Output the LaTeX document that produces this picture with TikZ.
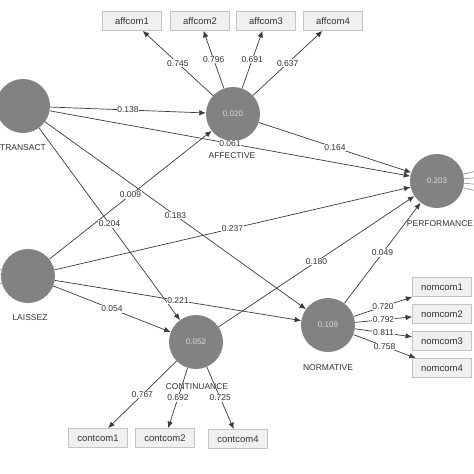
\documentclass[tikz,border=0pt]{standalone}
\usepackage{fontspec}
\setmainfont{Liberation Sans}
\usetikzlibrary{arrows.meta}
\definecolor{lvgray}{HTML}{828282}
\definecolor{lvtext}{HTML}{D8D8D8}
\definecolor{boxdraw}{HTML}{C4C4C4}
\definecolor{boxfill}{HTML}{F0F0F0}
\definecolor{txt}{HTML}{333333}
\definecolor{linec}{HTML}{3C3C3C}
\begin{document}
\begin{tikzpicture}[x=1pt,y=-1pt,
  lv/.style={circle, fill=lvgray, minimum size=54pt, inner sep=0pt, text=lvtext, font=\fontsize{8}{9}\selectfont},
  ind/.style={draw=boxdraw, line width=0.8pt, fill=boxfill, minimum width=59pt, minimum height=19pt, inner sep=0pt, text=txt, font=\fontsize{9.5}{11}\selectfont},
  lvname/.style={text=txt, inner sep=0pt, font=\fontsize{8.5}{10}\selectfont},
  conn/.style={draw=linec, line width=0.7pt, -{Latex[length=6.5pt,width=5.5pt]}},
  stub/.style={draw=linec!60, line width=0.6pt},
  coef/.style={fill=white, inner sep=0.8pt, text=txt, font=\fontsize{8.5}{10}\selectfont}
]
\clip (0,0) rectangle (474,474);
\fill[white] (0,0) rectangle (474,474);

% latent variables
\node[lv] (T) at (23,106) {};
\node[lv] (A) at (233,114) {0.020};
\node[lv] (P) at (437,181) {0.203};
\node[lv] (L) at (28,276) {};
\node[lv] (C) at (196,342) {0.052};
\node[lv] (N) at (328,325) {0.109};

% indicators
\node[ind] (a1) at (132,21) {affcom1};
\node[ind] (a2) at (200,21) {affcom2};
\node[ind] (a3) at (266,21) {affcom3};
\node[ind] (a4) at (333,21) {affcom4};
\node[ind] (c1) at (98,438) {contcom1};
\node[ind] (c2) at (165,438) {contcom2};
\node[ind] (c4) at (238,439) {contcom4};
\node[ind] (n1) at (442,287) {nomcom1};
\node[ind] (n2) at (442,314) {nomcom2};
\node[ind] (n3) at (442,341) {nomcom3};
\node[ind] (n4) at (442,368) {nomcom4};

% off-canvas indicator stubs
\coordinate (pe1) at (520,160);
\coordinate (pe2) at (520,174);
\coordinate (pe3) at (520,188);
\coordinate (pe4) at (520,202);
\coordinate (le1) at (-30,262);
\coordinate (le2) at (-30,272);
\coordinate (le3) at (-30,282);
\coordinate (le4) at (-30,292);
\foreach \e in {pe1,pe2,pe3,pe4} \draw[stub] (P) -- (\e);
\foreach \e in {le1,le2,le3,le4} \draw[stub] (L) -- (\e);

% structural paths
\draw[conn] (T) -- (A);
\draw[conn] (T) -- (P);
\draw[conn] (A) -- (P);
\draw[conn] (T) -- (C);
\draw[conn] (T) -- (N);
\draw[conn] (L) -- (A);
\draw[conn] (L) -- (P);
\draw[conn] (L) -- (N);
\draw[conn] (L) -- (C);
\draw[conn] (C) -- (P);
\draw[conn] (N) -- (P);

% measurement paths
\draw[conn] (A) -- (a1);
\draw[conn] (A) -- (a2);
\draw[conn] (A) -- (a3);
\draw[conn] (A) -- (a4);
\draw[conn] (C) -- (c1);
\draw[conn] (C) -- (c2);
\draw[conn] (C) -- (c4);
\draw[conn] (N) -- (n1);
\draw[conn] (N) -- (n2);
\draw[conn] (N) -- (n3);
\draw[conn] (N) -- (n4);

% coefficient labels
\path (T) -- node[coef] {0.138} (A);
\path (T) -- node[coef] {0.061} (P);
\path (A) -- node[coef] {0.164} (P);
\path (T) -- node[coef] {0.204} (C);
\path (T) -- node[coef] {0.183} (N);
\path (L) -- node[coef] {0.009} (A);
\path (L) -- node[coef] {0.237} (P);
\path (L) -- node[coef] {0.221} (N);
\path (L) -- node[coef] {0.054} (C);
\path (C) -- node[coef] {0.180} (P);
\path (N) -- node[coef] {0.049} (P);
\path (A) -- node[coef] {0.745} (a1);
\path (A) -- node[coef] {0.796} (a2);
\path (A) -- node[coef] {0.691} (a3);
\path (A) -- node[coef] {0.637} (a4);
\path (C) -- node[coef] {0.767} (c1);
\path (C) -- node[coef] {0.692} (c2);
\path (C) -- node[coef] {0.725} (c4);
\path (N) -- node[coef] {0.720} (n1);
\path (N) -- node[coef] {0.792} (n2);
\path (N) -- node[coef] {0.811} (n3);
\path (N) -- node[coef] {0.758} (n4);

% latent variable names
\node[lvname] (Tn) at (23,148) {TRANSACT};
\node[lvname] (An) at (232,156) {AFFECTIVE};
\node[lvname] (Pn) at (440,224) {PERFORMANCE};
\node[lvname] (Ln) at (30,318) {LAISSEZ};
\node[lvname] (Cn) at (197,387) {CONTINUANCE};
\node[lvname] (Nn) at (328,368) {NORMATIVE};
\end{tikzpicture}
\end{document}
